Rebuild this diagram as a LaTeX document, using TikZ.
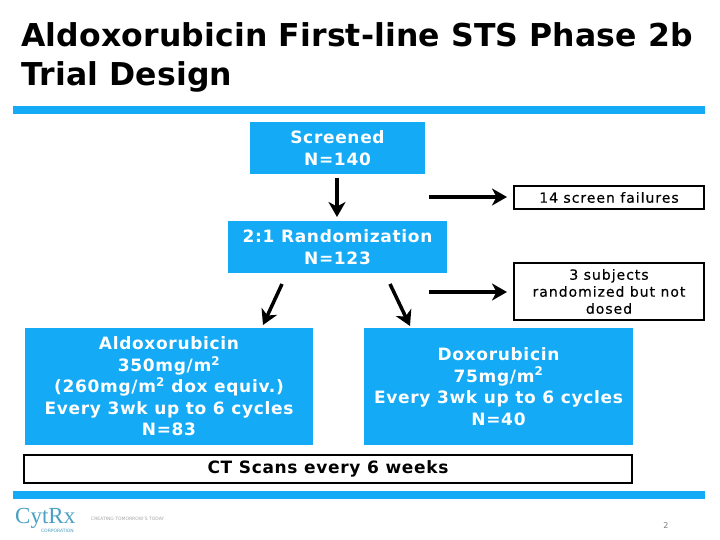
\documentclass[tikz,border=0pt]{standalone}
\usepackage{fontspec}
\setmainfont{DejaVu Sans}
\newfontfamily\titlefont[LetterSpace=0.5]{DejaVu Sans Bold}
\newfontfamily\boxfont[LetterSpace=4]{DejaVu Sans Bold}
\newfontfamily\smallfont[FakeBold=0.3,LetterSpace=7]{DejaVu Sans}
\newfontfamily\logofont{Liberation Serif}
\usetikzlibrary{arrows.meta}
\definecolor{cyt}{RGB}{20,170,245}
\definecolor{logo}{RGB}{75,160,195}
\tikzset{
 x=1pt,y=-1pt,
 bluebox/.style={fill=cyt,text=white,align=center,inner sep=0pt,font=\boxfont\fontsize{17}{21.5}\selectfont},
 whitebox/.style={draw=black,line width=2.5pt,fill=white,align=center,inner sep=0pt,font=\smallfont\fontsize{14}{17}\selectfont},
 bar/.style={fill=cyt,inner sep=0pt},
 arr/.style={draw=black,line width=3.5pt,-{Stealth[length=15pt,width=17pt,inset=4.5pt]}},
}
\newcommand{\bx}[6]{\node[#1,minimum width=#4-#3,minimum height=#6-#5] (#2) at ({(#3+#4)/2},{(#5+#6)/2})}
\newcommand{\sq}{\textsuperscript{2}}
\begin{document}
\begin{tikzpicture}
\useasboundingbox (0,0) rectangle (720,540);
\fill[white] (0,0) rectangle (720,540);
\node[anchor=north west,align=left,inner sep=0pt,font=\titlefont\fontsize{31.5}{39}\selectfont] (title) at (21,22) {Aldoxorubicin First-line STS Phase 2b\\Trial Design};
\bx{bar}{topbar}{13}{705}{106}{114} {};
\bx{bar}{botbar}{13}{705}{491}{499} {};
\bx{bluebox}{screened}{250}{425}{122}{174} {Screened\\N=140};
\bx{bluebox}{rand}{228}{447}{221}{273} {2:1 Randomization\\N=123};
\bx{bluebox}{aldo}{25}{313}{328}{445} {Aldoxorubicin\\350mg/m\sq\\(260mg/m\sq{} dox equiv.)\\Every 3wk up to 6 cycles\\N=83};
\bx{bluebox}{doxo}{364}{633}{328}{445} {Doxorubicin\\75mg/m\sq\\Every 3wk up to 6 cycles\\N=40};
\bx{whitebox}{fail}{514}{704}{186}{209} {14 screen failures};
\bx{whitebox}{notdosed}{514}{704}{263}{320} {3 subjects\\randomized but not\\dosed};
\bx{whitebox,font=\boxfont\fontsize{17}{21}\selectfont}{ct}{24}{632}{455}{483} {CT Scans every 6 weeks};
\coordinate (a1) at (429,197);
\coordinate (a2) at (429,292);
\coordinate (d1s) at (282,284);
\coordinate (d1e) at (263,325);
\coordinate (d2s) at (390,284);
\coordinate (d2e) at (410,326);
\coordinate (v1s) at (337,178);
\coordinate (v1e) at (337,217);
\coordinate (h1e) at (507,197);
\coordinate (h2e) at (507,292);
\draw[arr] (v1s) -- (v1e);
\draw[arr] (a1) -- (h1e);
\draw[arr] (a2) -- (h2e);
\draw[arr] (d1s) -- (d1e);
\draw[arr] (d2s) -- (d2e);
\node[text=logo,font=\logofont\fontsize{23}{23}\selectfont,anchor=west,inner sep=0pt] (logo) at (15,518) {CytRx};
\node[text=logo,font=\fontsize{4.5}{5}\selectfont,anchor=east,inner sep=0pt] (corp) at (74,530.5) {CORPORATION};
\node[text=gray!70,font=\fontsize{4.5}{5}\selectfont,anchor=west,inner sep=0pt] (tag) at (91,519) {CREATING TOMORROW'S TODAY};
\node[text=gray,font=\fontsize{8}{10}\selectfont,inner sep=0pt] (page) at (666,526) {2};
\end{tikzpicture}
\end{document}
